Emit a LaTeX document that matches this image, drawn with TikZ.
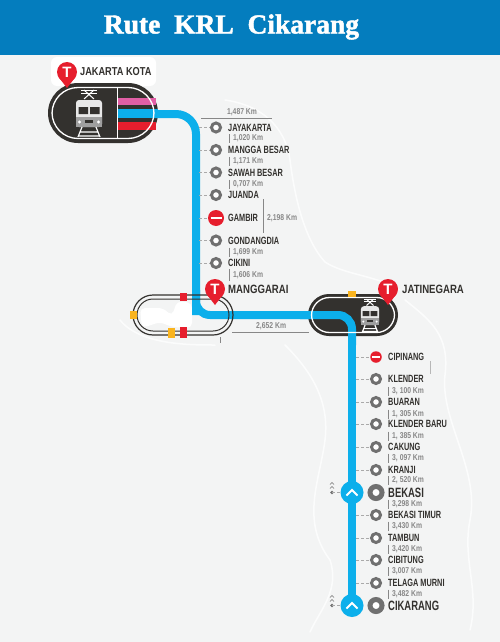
\documentclass[tikz,border=0pt]{standalone}
\usepackage{fontspec}
\setmainfont{Liberation Sans}
\newfontfamily\titlef[FakeBold=1.6]{Liberation Serif}
\newfontfamily\labf[FakeStretch=0.8]{Liberation Sans}
\newfontfamily\labn[FakeStretch=0.7]{Liberation Sans}
\definecolor{bandc}{RGB}{4,125,190}
\definecolor{bgc}{RGB}{243,244,244}
\definecolor{darkc}{RGB}{51,49,46}
\definecolor{linec}{RGB}{12,175,235}
\definecolor{redc}{RGB}{230,30,45}
\definecolor{pinkc}{RGB}{225,95,165}
\definecolor{yelc}{RGB}{250,180,30}
\definecolor{grayc}{RGB}{112,112,112}
\definecolor{kmc}{RGB}{135,135,135}
\tikzset{
 stlabel/.style={anchor=west,inner sep=0,font=\labn\bfseries\fontsize{10.5}{10.5}\selectfont,text=darkc},
 biglabel/.style={anchor=west,inner sep=0,font=\labn\bfseries\fontsize{13.5}{13.5}\selectfont,text=darkc},
 pinlabel/.style={anchor=west,inner sep=0,font=\labf\bfseries\fontsize{12}{12}\selectfont,text=darkc},
 kmlabel/.style={anchor=west,inner sep=0,font=\labf\bfseries\fontsize{8.5}{8.5}\selectfont,text=kmc},
 stdot/.style={circle,draw=grayc,line width=3pt,fill=white,minimum size=9pt,inner sep=0},
 bigdot/.style={circle,draw=grayc,line width=5pt,fill=white,minimum size=12pt,inner sep=0},
 nodot/.style={circle,fill=redc,inner sep=0},
 updot/.style={circle,fill=linec,minimum size=23pt,inner sep=0},
 leader/.style={grayc!60,line width=.5pt,densely dashed},
 kmtick/.style={kmc,line width=.7pt},
 route/.style={linec,line width=8pt},
 mapw/.style={white,line width=1.5pt,line cap=round,line join=round,opacity=.75},
 pinhead/.style={circle,fill=redc,text=white,minimum size=20pt,inner sep=0,font=\bfseries\fontsize{15}{15}\selectfont},
}
% station on a route: id, route x, x, y, label
\newcommand{\stn}[5]{\coordinate (#1-r) at (#2,#4); \node[stdot] (#1) at (#3,#4) {}; \draw[leader] (#1-r) -- (#1); \node[stlabel] (#1-t) at (#3+12,#4) {#5};}
\newcommand{\kmv}[5]{\draw[kmtick] (#2,#3-4.5) -- (#2,#3+4.5); \node[kmlabel] (#1) at (#2+#4,#3) {#5};}
\newcommand{\pinm}[3]{\fill[redc] (#2-8.5,#3+5) -- (#2,#3+16) -- (#2+8.5,#3+5) -- cycle; \node[pinhead] (#1) at (#2,#3) {T};}
\newcommand{\trainm}[3]{\begin{scope}[shift={(#1,#2)},scale=#3]
 \draw[white,line width=1pt] (-8,-24) -- (8,-24) (-8,-21) -- (8,-21);
 \draw[white,line width=1pt] (-5,-24) -- (5,-15) (5,-24) -- (-5,-15);
 \fill[white!82!gray,rounded corners=3pt] (-13,-14) rectangle (13,13);
 \fill[darkc] (-10.5,-7) rectangle (-1,0) (1,-7) rectangle (10.5,0);
 \fill[gray!75] (-13,3) rectangle (13,13);
 \fill[white] (-9.5,8) circle (1.6) (9.5,8) circle (1.6);
 \fill[darkc] (-4,6) rectangle (4,9);
 \draw[white,line width=1.2pt] (-7,13) -- (-11,23) (7,13) -- (11,23) (-9,18) -- (9,18) (-11,22) -- (11,22);
 \end{scope}}
\begin{document}
\begin{tikzpicture}[x=1pt,y=-1pt]
\useasboundingbox (0,0) rectangle (500,642);
\fill[bgc] (0,0) rectangle (500,642);
\fill[bandc] (0,0) rectangle (500,55);
% faint map
\fill[white,rounded corners=6pt] (51,57) rectangle (156,86);
\fill[white,rounded corners=5pt] (140,308) -- (163,308) -- (172,316) -- (177,301) -- (192,303) -- (192,328) -- (172,327) -- (160,322) -- (142,328) -- cycle;
\draw[mapw] (225,100) .. controls (260,105) and (285,125) .. (290,160) .. controls (295,200) and (305,240) .. (325,262) .. controls (345,275) and (375,275) .. (400,290);
\draw[mapw] (405,300) .. controls (430,320) and (450,335) .. (445,375) .. controls (440,420) and (480,470) .. (470,520) .. controls (462,560) and (480,590) .. (470,630);
\draw[mapw] (285,345) .. controls (310,370) and (330,400) .. (325,440) .. controls (320,480) and (300,520) .. (330,560) .. controls (340,590) and (320,610) .. (310,632);
\draw[mapw] (120,320) .. controls (140,345) and (190,345) .. (215,345);
\node[font=\titlef\bfseries\fontsize{27.5}{27.5}\selectfont,text=white,inner sep=0,anchor=center] (title) at (231.5,27) {Rute\ \ KRL\ \ Cikarang};
% Jakarta Kota oval
\fill[darkc,rounded corners=30pt] (48,83) rectangle (158,143);
\fill[pinkc] (118,97.5) rectangle (156,105);
\fill[linec] (118,109) rectangle (158,118);
\fill[redc] (118,122) rectangle (156,130);
\coordinate (jk-end) at (154,114);
\coordinate (mg-line) at (196,315);
\coordinate (jt-turn) at (352,315);
\coordinate (ck-end) at (352,606);
\draw[route,rounded corners=20pt] (jk-end) -| (mg-line);
\draw[route,rounded corners=14pt] (196,290) |- (jt-turn);
% Manggarai oval
\draw[darkc,line width=1.2pt,rounded corners=20pt] (133,295) rectangle (233,335);
\draw[darkc,line width=1pt,rounded corners=16pt] (137,299) rectangle (229,331);
% Jatinegara oval, under the route
\fill[darkc,rounded corners=21pt] (308,294) rectangle (398,336);
\draw[route,rounded corners=14pt] (300,315) -| (352,345);
\draw[route] (352,340) -- (ck-end);
\draw[white,line width=1.3pt,rounded corners=18pt] (311.5,297.5) rectangle (394.5,332.5);
\draw[white,line width=1.3pt,rounded corners=26pt] (52,87.5) rectangle (154,138.5);
\draw[white,line width=1pt] (117,88) -- (117,138);
\trainm{89}{114}{1}
\trainm{370}{316}{.7}
% markers
\fill[yelc] (130,311) rectangle (137,319);
\fill[redc] (180,293) rectangle (187,301);
\fill[yelc] (168,328) rectangle (175,338);
\fill[redc] (180,327) rectangle (187,338);
\fill[yelc] (348,291) rectangle (356,297);
% pins
\pinm{pjk}{67}{72}
\node[pinlabel,font=\labf\bfseries\fontsize{11.5}{11.5}\selectfont] (tjk) at (80,72) {JAKARTA KOTA};
\pinm{pmg}{215}{289}
\node[pinlabel] (tmg) at (228,289) {MANGGARAI};
\pinm{pjt}{388}{289}
\node[pinlabel] (tjt) at (402,289) {JATINEGARA};
% upper stations
\stn{jy}{199}{216}{127.5}{JAYAKARTA}
\stn{mb}{199}{216}{150}{MANGGA BESAR}
\stn{sb}{199}{216}{172.5}{SAWAH BESAR}
\stn{ju}{199}{216}{195}{JUANDA}
\coordinate (gb-r) at (199,218);
\node[nodot,minimum size=16pt] (gb) at (216,218) {};
\draw[leader] (gb-r) -- (gb);
\draw[white,line width=2.5pt] (210.5,218) -- (221.5,218);
\node[stlabel] (gb-t) at (228,218) {GAMBIR};
\stn{gd}{199}{216}{240.5}{GONDANGDIA}
\stn{ck2}{199}{216}{263}{CIKINI}
% km upper
\node[kmlabel,anchor=center] (k0) at (242,112) {1,487 Km};
\draw[kmtick,line width=.6pt] (201,118) -- (272,118);
\kmv{k1}{229.5}{138.5}{3.5}{1,020 Km}
\kmv{k2}{229.5}{161}{3.5}{1,171 Km}
\kmv{k3}{229.5}{184}{3.5}{0,707 Km}
\draw[kmtick] (263.7,199) -- (263.7,233);
\node[kmlabel] (k4) at (267,218) {2,198 Km};
\kmv{k5}{229.5}{252}{3.5}{1,699 Km}
\draw[kmtick] (229.5,269) -- (229.5,281);
\node[kmlabel] (k6) at (233,275.5) {1,606 Km};
\node[kmlabel] (k7) at (256,326) {2,652 Km};
\draw[kmtick,line width=.6pt] (232,332) -- (309,332);
\draw[kmtick] (220,337) -- (220,343);
% lower stations
\coordinate (cp-r) at (356,357);
\node[nodot,minimum size=11.5pt] (cp) at (376,357) {};
\draw[leader] (cp-r) -- (cp);
\draw[white,line width=2pt] (372,357) -- (380,357);
\node[stlabel] (cp-t) at (388,357) {CIPINANG};
\draw[kmc!60,line width=.7pt] (430.7,361) -- (430.7,374);
\stn{kl}{356}{376}{379}{KLENDER}
\stn{bu}{356}{376}{402}{BUARAN}
\stn{kb}{356}{376}{424}{KLENDER BARU}
\stn{ca}{356}{376}{447}{CAKUNG}
\stn{kr}{356}{376}{470}{KRANJI}
\stn{bt}{356}{376}{515}{BEKASI TIMUR}
\stn{ta}{356}{376}{538}{TAMBUN}
\stn{ci}{356}{376}{560}{CIBITUNG}
\stn{tm}{356}{376}{583}{TELAGA MURNI}
\node[bigdot] (bk) at (376,492.5) {};
\node[biglabel] (bk-t) at (388,492.5) {BEKASI};
\node[bigdot] (ckr) at (376,605.5) {};
\node[biglabel] (ckr-t) at (388,605.5) {CIKARANG};
\node[updot] (ub) at (352,492.5) {};
\node[updot] (uc) at (352,605.5) {};
\draw[white,line width=2pt] (346.5,495.5) -- (352,490) -- (357.5,495.5);
\draw[white,line width=2pt] (346.5,608.5) -- (352,603) -- (357.5,608.5);
% small up signs
\coordinate (a1) at (332,492.5);
\coordinate (a2) at (332,605.5);
\fill[grayc] (a1) circle (1.8) (a2) circle (1.8);
\draw[leader] (a1) -- (ub);
\draw[leader] (a2) -- (uc);
\draw[grayc,line width=.6pt] (330,484.5) -- (332,482.5) -- (334,484.5) (330,488.5) -- (332,486.5) -- (334,488.5);
\draw[grayc,line width=.6pt] (330,597.5) -- (332,595.5) -- (334,597.5) (330,601.5) -- (332,599.5) -- (334,601.5);
% km lower
\kmv{m1}{388.5}{391}{3.5}{3, 100 Km}
\kmv{m2}{388.5}{414}{3.5}{1, 305 Km}
\kmv{m3}{388.5}{436}{3.5}{1, 385 Km}
\kmv{m4}{388.5}{458}{3.5}{3, 097 Km}
\kmv{m5}{388.5}{480.5}{3.5}{2, 520 Km}
\kmv{m6}{388.5}{504}{3.5}{3,298 Km}
\kmv{m7}{388.5}{526}{3.5}{3,430 Km}
\kmv{m8}{388.5}{549}{3.5}{3,420 Km}
\kmv{m9}{388.5}{571.5}{3.5}{3,007 Km}
\kmv{m10}{388.5}{594}{3.5}{3,482 Km}
\end{tikzpicture}
\end{document}
